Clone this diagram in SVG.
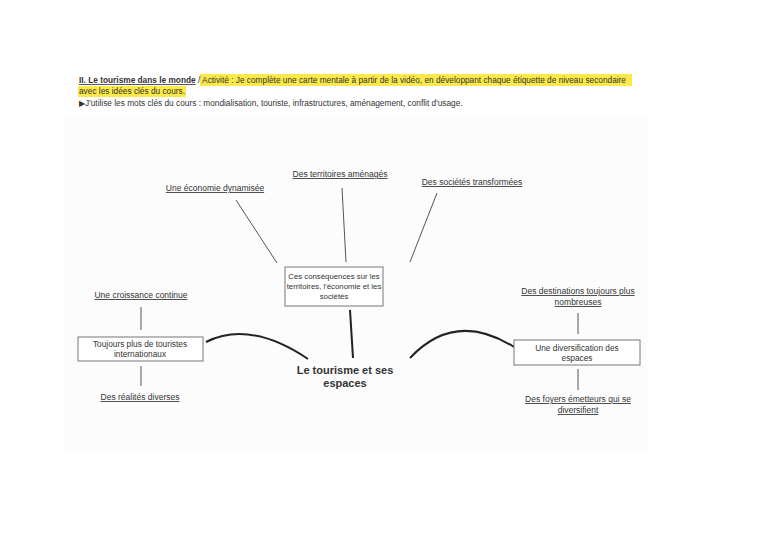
<svg xmlns="http://www.w3.org/2000/svg" width="768" height="543" viewBox="0 0 768 543">
<style>
text{font-family:"Liberation Sans",Arial,sans-serif;fill:#333}
.h{font-size:8.3px}
.l{font-size:8.5px;text-decoration:underline;text-anchor:middle}
.b{font-size:8.3px;text-anchor:middle}
.s{font-size:7.8px}
.box{fill:#fff;stroke:#777;stroke-width:1}
.c{stroke:#555;stroke-width:1;fill:none}
.t{stroke:#222;stroke-width:2;fill:none}
</style>
<rect width="768" height="543" fill="#fff"/>
<rect x="65" y="118" width="582" height="335" fill="#fcfcfc"/>
<g id="header">
<rect x="200" y="74" width="432" height="12" fill="#fbe94a"/>
<rect x="78" y="86" width="108" height="11" fill="#fbe94a"/>
<text class="h" x="79" y="83"><tspan font-weight="bold" text-decoration="underline">II. Le tourisme dans le monde</tspan> / Activité : Je complète une carte mentale à partir de la vidéo, en développant chaque étiquette de niveau secondaire</text>
<text class="h" x="79" y="94">avec les idées clés du cours.</text>
<text class="h" x="79" y="106">▶J'utilise les mots clés du cours : mondialisation, touriste, infrastructures, aménagement, conflit d'usage.</text>
</g>
<g id="connectors">
<line class="c" x1="236" y1="200" x2="277" y2="263"/>
<line class="c" x1="342" y1="188" x2="346" y2="262"/>
<line class="c" x1="437" y1="193" x2="410" y2="262"/>
<line class="t" x1="350" y1="310" x2="353" y2="358"/>
<line class="c" x1="141" y1="307" x2="141" y2="330"/>
<line class="c" x1="141" y1="366" x2="141" y2="386"/>
<line class="c" x1="578" y1="313" x2="578" y2="334"/>
<line class="c" x1="578" y1="369" x2="578" y2="390"/>
<path class="t" d="M206,342 Q250,320 308,359"/>
<path class="t" d="M410,358 Q455,310 514,347"/>
</g>
<g id="center">
<rect class="box" x="285" y="267" width="98" height="39"/>
<text class="b s" x="334" y="279">Ces conséquences sur les</text>
<text class="b s" x="334" y="289">territoires, l'économie et les</text>
<text class="b s" x="334" y="299">sociétés</text>
</g>
<g id="title">
<text x="345" y="374" font-size="11" font-weight="bold" text-anchor="middle">Le tourisme et ses</text>
<text x="345" y="387" font-size="11" font-weight="bold" text-anchor="middle">espaces</text>
</g>
<g id="left">
<rect class="box" x="78" y="337" width="125" height="24"/>
<text class="b" x="140" y="347">Toujours plus de touristes</text>
<text class="b" x="140" y="357">internationaux</text>
</g>
<g id="right">
<rect class="box" x="514" y="340" width="126" height="25"/>
<text class="b" x="577" y="351">Une diversification des</text>
<text class="b" x="577" y="361">espaces</text>
</g>
<g id="labels">
<text class="l" x="215" y="191">Une économie dynamisée</text>
<text class="l" x="340" y="177">Des territoires aménagés</text>
<text class="l" x="472" y="185">Des sociétés transformées</text>
<text class="l" x="141" y="298">Une croissance continue</text>
<text class="l" x="140" y="400">Des réalités diverses</text>
<text class="l" x="578" y="294">Des destinations toujours plus</text>
<text class="l" x="578" y="305">nombreuses</text>
<text class="l" x="578" y="402">Des foyers émetteurs qui se</text>
<text class="l" x="578" y="413">diversifient</text>
</g>
</svg>
